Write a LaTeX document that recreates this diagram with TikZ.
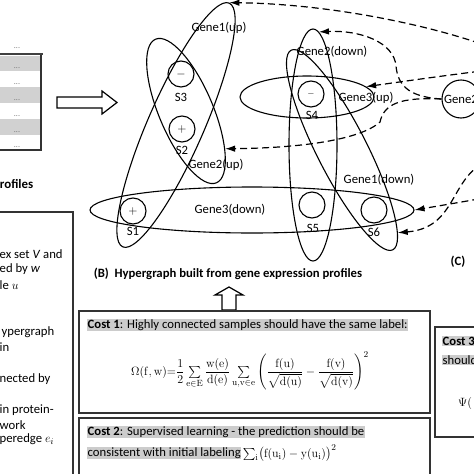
\documentclass[tikz,border=0pt]{standalone}
\usepackage{amsmath}
\usepackage[no-math]{fontspec}
\setmainfont{Carlito}
\usetikzlibrary{shapes.geometric,arrows.meta}

\begin{document}
\begin{tikzpicture}[x=1pt, y=-1pt,
    font=\fontsize{12.7}{15}\selectfont,
    sample_node/.style={circle,draw,line width=1.1,minimum size=26,inner sep=0},
    hyper_edge/.style={ellipse,draw,line width=1.1,inner sep=0},
    sample_label/.style={inner sep=0},
    reg_edge/.style={line width=1.2,dash pattern=on 7pt off 4pt,-{Latex[length=10,width=6.5]}},
    frame_line/.style={line width=1.2,black!80},
    high_text/.style={fill=black!20,inner sep=0.5,anchor=west},
    dots_text/.style={font=\footnotesize,text=black!55,anchor=base,inner sep=0}]
\useasboundingbox (0,0) rectangle (474,474);

    % (A) expression table, cut at the left border
    \fill[black!18] (-5,55.5) rectangle (41,71);
    \fill[black!18] (-5,87) rectangle (41,103);
    \fill[black!18] (-5,119) rectangle (41,135);
    \draw[frame_line] (41,55) -- (41,150) -- (-5,150);
    \draw[line width=2.6,black!75] (-5,54) -- (43,54);
    \foreach \y in {48,68,84,100,116,132,147}
        \node[dots_text] at (17,\y) {...};
    \node[font=\fontsize{12.9}{15}\bfseries\selectfont, anchor=east, inner sep=0] (a_caption) at (33.5,184) {rofiles};
    \draw[line width=1.2] (57,97) -- (102,97) -- (102,91) -- (117,102.5) -- (102,114) -- (102,108) -- (57,108) -- cycle;

    % (B) hypergraph
    \node[sample_node] (s3) at (181,74) {$-$};
    \node[sample_node] (s2) at (182,129) {$+$};
    \node[sample_node] (s1) at (133,211) {$+$};
    \node[sample_node] (s4) at (311,94) {\small$-$};
    \node[sample_node] (s5) at (312,205) {};
    \node[sample_node] (s6) at (374,210) {};
    \node[sample_label] (s3_label) at (181,97) {S3};
    \node[sample_label] (s2_label) at (182,150) {S2};
    \node[sample_label] (s1_label) at (133,231) {S1};
    \node[sample_label] (s4_label) at (312,115) {S4};
    \node[sample_label] (s5_label) at (313,228) {S5};
    \node[sample_label] (s6_label) at (374,232) {S6};

    \node[hyper_edge, minimum width=266, minimum height=56, rotate=66.4] (g1up) at (176,125) {};
    \node[hyper_edge, minimum width=156, minimum height=54, rotate=113] (g2up) at (186,111) {};
    \node[hyper_edge, minimum width=324, minimum height=46] (g3down) at (252,210) {};
    \node[hyper_edge, minimum width=134, minimum height=42] (g3up) at (307,97) {};
    \node[hyper_edge, minimum width=232, minimum height=48, rotate=90] (g2down) at (313,145) {};
    \node[hyper_edge, minimum width=224, minimum height=50, rotate=-63] (g1down) at (342,150) {};

    \node[sample_label] (g1up_label) at (219,28) {Gene1(up)};
    \node[sample_label] (g2up_label) at (216,165) {Gene2(up)};
    \node[sample_label] (g3down_label) at (230,210) {Gene3(down)};
    \node[sample_label] (g3up_label) at (366,98) {Gene3(up)};
    \node[sample_label] (g2down_label) at (332,52) {Gene2(down)};
    \node[sample_label] (g1down_label) at (379,180) {Gene1(down)};

    % (C) regulators, mostly outside the crop
    \node[circle, draw, line width=1.1, minimum size=38, inner sep=0] (gene2) at (461,99) {Gene2};
    \coordinate (src_top) at (490,47);
    \coordinate (src_g3up) at (490,70);
    \coordinate (src_g3down) at (490,197);
    \coordinate (src_g1down) at (482,164);

    \draw[reg_edge] (src_top) .. controls (430,25) and (330,4) .. (g1up.east);
    \draw[reg_edge] (gene2.west) .. controls (412,97) and (398,88) .. (396,66) .. controls (394,42) and (360,30) .. (g2down.357);
    \draw[reg_edge] (src_g3up) .. controls (440,76) and (400,82) .. (g3up.10);
    \draw[reg_edge] (gene2.west) .. controls (400,97) and (384,104) .. (380,122) .. controls (360,140) and (300,148) .. (g2up.203);
    \draw[reg_edge] (src_g3down) .. controls (450,204) .. (g3down.east);
    \draw[reg_edge] (src_g1down) .. controls (450,182) and (455,228) .. (g1down.7);

    \node[font=\fontsize{12.7}{15}\bfseries\selectfont] (b_caption) at (228,274) {(B)\ \ Hypergraph built from gene expression profiles};
    \node[font=\fontsize{12.7}{15}\bfseries\selectfont] (c_caption) at (458,262) {(C)};
    \draw[line width=1.2] (222,310) -- (222,295) -- (215,295) -- (229,287) -- (243,295) -- (236,295) -- (236,310) -- cycle;

    % left text box
    \draw[frame_line] (-5,212) -- (73,212) -- (73,480);
    \node[anchor=west, inner sep=0] (l1) at (-0.5,254) {ex set \textit{V} and};
    \node[anchor=west, inner sep=0] (l2) at (-0.5,269) {ed by \textit{w}};
    \node[anchor=west, inner sep=0] (l3) at (-0.5,285) {le $u$};
    \node[anchor=west, inner sep=0] (l4) at (1.5,332) {ypergraph};
    \node[anchor=west, inner sep=0] (l5) at (-0.5,347) {in};
    \node[anchor=west, inner sep=0] (l6) at (-0.5,379) {nected by};
    \node[anchor=west, inner sep=0] (l7) at (-0.5,410) {in protein-};
    \node[anchor=west, inner sep=0] (l8) at (-0.5,425) {work};
    \node[anchor=west, inner sep=0] (l9) at (-0.5,439) {peredge $e_i$};

    % cost boxes
    \draw[frame_line] (79,311) rectangle (430,413);
    \draw[frame_line] (79,418) rectangle (430,480);
    \draw[frame_line] (435,327) rectangle (480,437);
    \node[high_text] (cost1_title) at (87,325) {\textbf{Cost 1}: Highly connected samples should have the same label:};
    \node (cost1_formula) at (250,371) {$\Omega(\mathrm{f},\mathrm{w}){=}\dfrac{1}{2}\sum\limits_{\mathrm{e}\in\mathrm{E}}\dfrac{\mathrm{w}(\mathrm{e})}{\mathrm{d}(\mathrm{e})}\sum\limits_{\mathrm{u},\mathrm{v}\in\mathrm{e}}\left(\dfrac{\mathrm{f}(\mathrm{u})}{\sqrt{\mathrm{d}(\mathrm{u})}}-\dfrac{\mathrm{f}(\mathrm{v})}{\sqrt{\mathrm{d}(\mathrm{v})}}\right)^{2}$};
    \node[high_text] (cost2_line1) at (87,432) {\textbf{Cost 2}: Supervised learning - the prediction should be};
    \node[high_text] (cost2_line2) at (87,453) {consistent with initial labeling};
    \node[anchor=west, inner sep=1] (cost2_formula) at (cost2_line2.east) {$\sum_{\mathrm{i}}\bigl(\mathrm{f}(\mathrm{u_i})-\mathrm{y}(\mathrm{u_i})\bigr)^{2}$};
    \node[high_text] (cost3_title) at (442,341) {\textbf{Cost 3}};
    \node[high_text] (cost3_line1) at (442,360) {should};
    \node[anchor=west, inner sep=0] (cost3_formula) at (458,403) {$\Psi($};

\end{tikzpicture}
\end{document}
